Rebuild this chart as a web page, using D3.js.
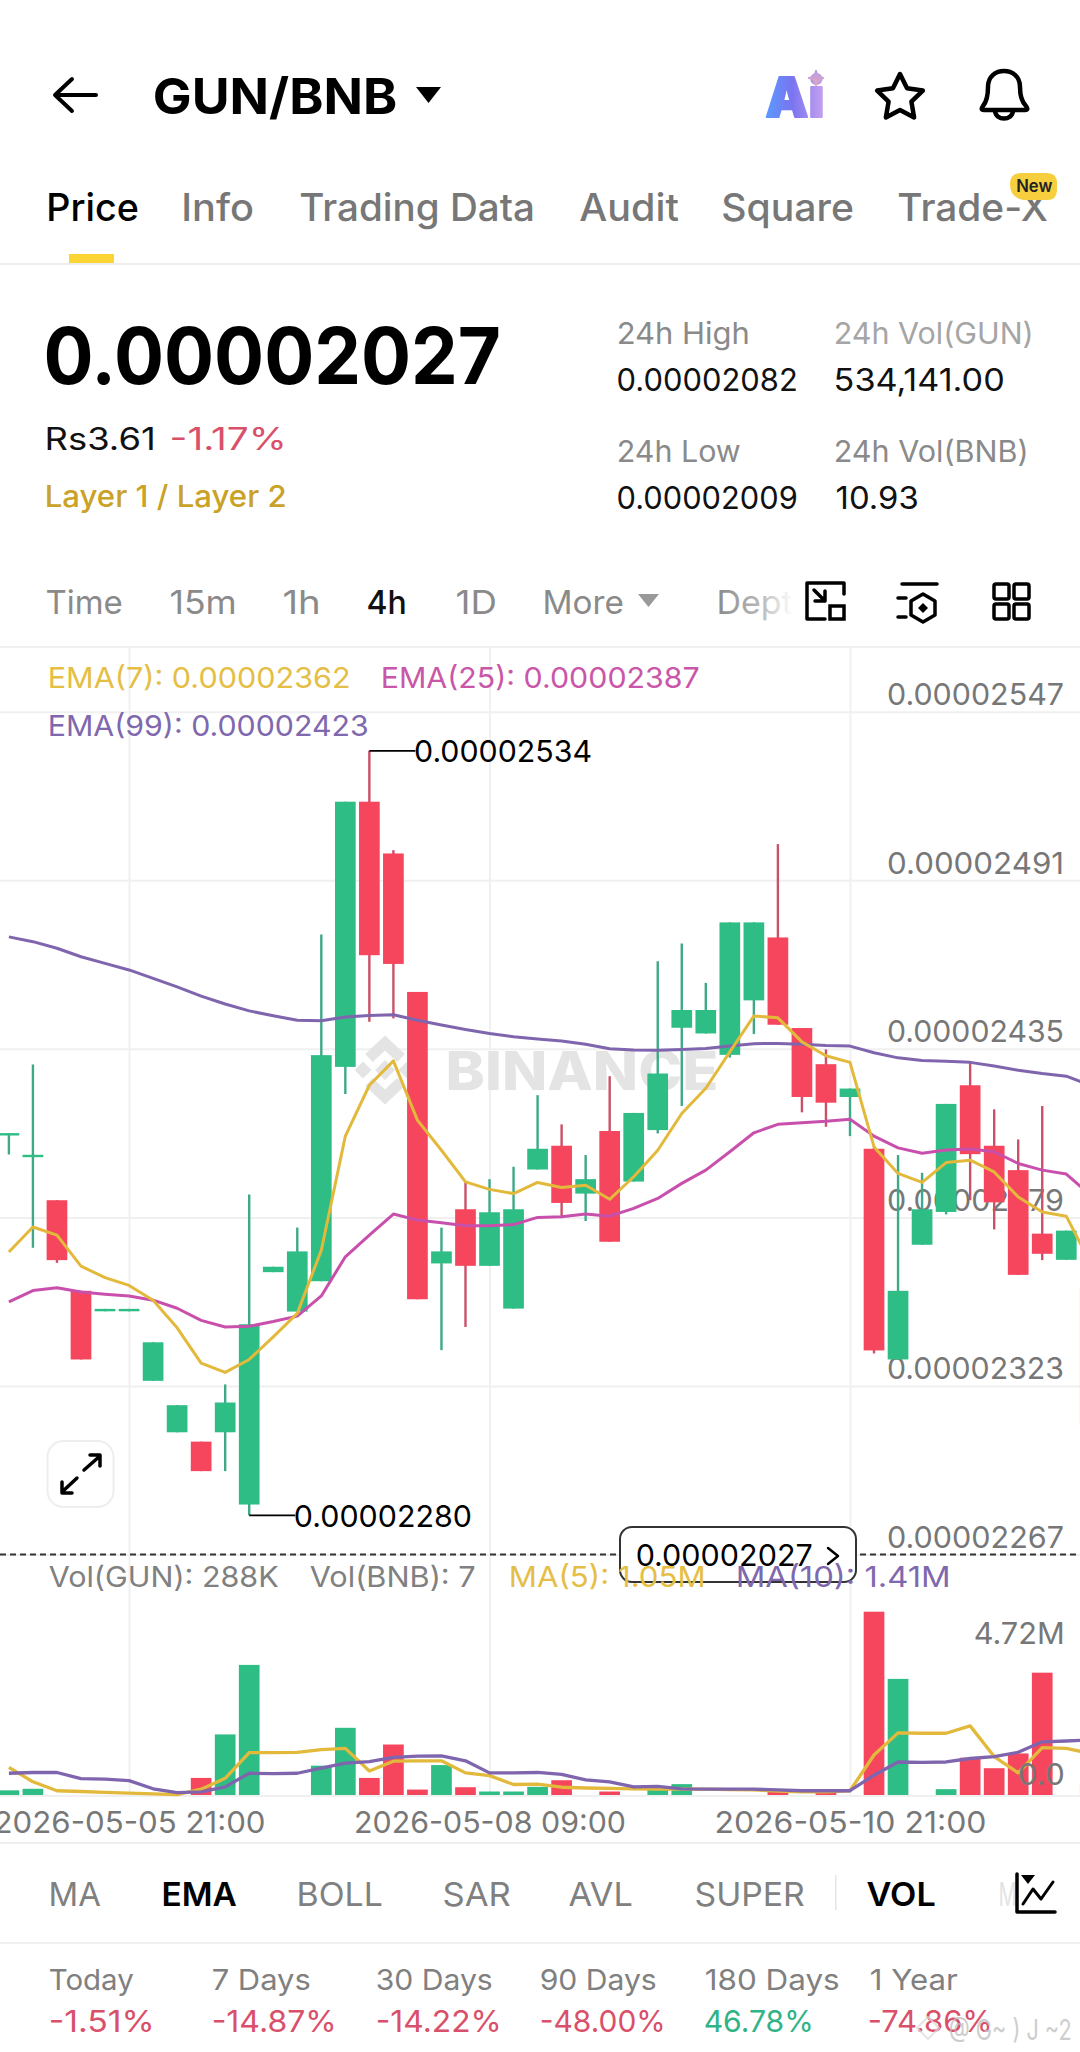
<!DOCTYPE html>
<html>
<head>
<meta charset="utf-8">
<script src="https://cdn.jsdelivr.net/npm/d3@7"></script>
<style>
  html, body { margin: 0; padding: 0; background: #fff; }
  svg { display: block; }
  text { font-family: Inter, "Noto Sans", sans-serif; }
</style>
</head>
<body>
<div id="chart"></div>
<script>
// 1. DATA (prices are in units of 0.00000001)
const opens = [2406.2,2399.0,2384.7,2354.6,2347.8,2347.8,2324.7,2307.6,2304.5,2307.6,2283.6,2360.8,2347.7,2357.8,2429,2517.1,2499.9,2453.9,2363.7,2381.7,2362.9,2348.7,2394.9,2402.8,2386.9,2407.7,2390.9,2408,2442,2440.1,2433,2451.1,2472,2441.9,2429.9,2419,2401.8,2331.8,2369.9,2380.8,2422.9,2402.8,2394.7,2373.6,2364.9,2355.7];
const closes = [2407,2399.8,2364.8,2331.8,2348.6,2348.6,2337.5,2316.6,2294.7,2317.5,2343.5,2362.6,2367.7,2432.9,2517.1,2466.1,2463.2,2351.8,2367.7,2362.9,2380.7,2381.7,2401.8,2383.8,2391.7,2370.9,2413.7,2426.8,2447.9,2447.9,2477,2477,2443,2419,2417.1,2421.8,2334.8,2354.6,2381.7,2416.7,2400,2384,2359.9,2366.9,2374.6,2309.7];
const highs = [2407,2429.8,2384.7,2354.6,2348.6,2348.6,2337.5,2316.6,2304.5,2323.5,2386.6,2362.6,2375.6,2473,2517.1,2534,2501,2453.9,2375.6,2390.8,2391.7,2395.8,2419.6,2409.9,2399.7,2425.9,2413.7,2464.1,2470,2456.9,2477,2477,2503,2441.9,2434.8,2421.8,2402.7,2399.7,2393.8,2416.7,2430.7,2414.9,2404.9,2416,2374.6,2355.7];
const lows = [2399.9,2368.9,2363.9,2331.8,2347.8,2347.8,2324.7,2307.6,2294.7,2294.7,2280,2360.8,2347.7,2357.8,2420,2444,2445.1,2351.8,2334.9,2342.6,2362.9,2348.7,2394.9,2379,2377.8,2370.9,2390.9,2406.9,2416,2440.1,2432.1,2439.9,2443,2413.9,2409.1,2406,2333.8,2331.8,2369.9,2380,2384.7,2375,2359.9,2364.8,2364.9,2309.7];

const ema7 = [2367.5,2375.8,2373.1,2362.8,2359,2356.4,2351.5,2342.3,2330.6,2327.5,2331.8,2339.3,2347.1,2368.1,2406,2422.9,2431,2411.3,2401.3,2390.8,2388.3,2386.9,2390.6,2388.9,2389.7,2385,2392.5,2401.3,2413.5,2421.9,2434,2445.9,2445.3,2437.3,2432.7,2430.5,2402.4,2393.6,2390.6,2397.2,2398,2394.1,2385.8,2380.8,2379.4,2364];
const ema25 = [2350.9,2354.7,2355.6,2354.2,2353.5,2352.9,2351.5,2348.8,2344.8,2342.6,2342.8,2344.4,2346.2,2352.9,2365.9,2373.1,2380.1,2378.1,2377.2,2376.2,2376.2,2376.6,2379,2379.2,2380.1,2379.4,2382,2385.3,2390.3,2394.7,2400.8,2407.1,2409.9,2410.4,2410.9,2411.6,2406,2402.1,2400.3,2401.4,2401.7,2400.8,2396.9,2394.7,2393.4,2386.4];
const ema99 = [2472.2,2470.6,2468.4,2465.6,2463.4,2461.2,2458.4,2455.6,2452.5,2449.9,2447.6,2446,2444.5,2444.3,2445.6,2446.1,2446.3,2444.5,2442.9,2441.4,2440.1,2439,2438.3,2437.6,2436.5,2435,2434.6,2434.5,2434.8,2435.1,2435.9,2436.7,2436.8,2436.5,2436.1,2435.9,2433.7,2432,2431.1,2430.9,2430.5,2429.3,2427.9,2426.8,2425.9,2422.9];

// volume in millions of GUN
const volumes = [0.12,0.16,0,0,0,0,0,0,0.44,1.56,3.35,0,0,0.755,1.73,0.44,1.30,0.14,0.77,0.20,0.09,0.09,0.21,0.38,0,0.09,0,0.15,0.28,0,0,0,0.09,0,0.07,0,4.72,2.99,0,0.15,0.96,0.69,1.07,3.15,0,0.28];
const volMa5 = [0.71,0.34,0.11,0.09,0.07,0.05,0.03,0.01,0.15,0.43,1.09,1.09,1.10,1.17,1.20,0.62,0.87,0.88,0.88,0.57,0.50,0.27,0.28,0.20,0.18,0.17,0.16,0.15,0.16,0.15,0.14,0.13,0.10,0.08,0.08,0.11,1.03,1.60,1.59,1.59,1.78,0.99,0.57,1.22,1.20,1.07];
const volMa10 = [0.56,0.58,0.58,0.42,0.41,0.37,0.16,0.06,0.08,0.21,0.56,0.55,0.56,0.69,0.82,0.86,0.97,1.0,1.01,0.88,0.57,0.57,0.58,0.53,0.39,0.34,0.21,0.22,0.16,0.15,0.15,0.15,0.13,0.11,0.11,0.11,0.51,0.85,0.84,0.85,0.94,0.99,1.10,1.37,1.39,1.42];

const priceTicks = [2547, 2491, 2435, 2379, 2323, 2267];
const dateTickIndex = [5, 20, 35];
const dateTickLabels = ["2026-05-05 21:00", "2026-05-08 09:00", "2026-05-10 21:00"];
const lastPrice = 2027;

// 2. SETUP
const width = 1080;
const height = 2052;
const GREEN = "#2EBD85", RED = "#F6465D";
const GREEN_WICK = "#3FA888", RED_WICK = "#CB5069";
const GRID = "#F0F0F0", AXIS_TEXT = "#777";
const YELLOW = "#E3B93C", MAGENTA = "#C850AC", PURPLE = "#7F65AE";
const SOFT_RED = "#D9506A";

const svg = d3.select("#chart").append("svg")
    .attr("width", width)
    .attr("height", height)
    .attr("viewBox", [0, 0, width, height]);

const defs = svg.append("defs");
function gradient(id, stops, x2 = 1, y2 = 0) {
    const g = defs.append("linearGradient").attr("id", id)
        .attr("x1", 0).attr("y1", 0).attr("x2", x2).attr("y2", y2);
    stops.forEach(([o, c]) => g.append("stop").attr("offset", o).attr("stop-color", c));
}
gradient("aiFill", [[0, "#5A9BFF"], [0.45, "#7A74F0"], [1, "#C6A2EE"]]);
gradient("sparkFill", [[0, "#B79AE8"], [1, "#E3A9B8"]], 0, 1);
gradient("deptFade", [[0, "#8A8A8A"], [0.6, "#BBBBBB"], [1, "#FFFFFF"]]);

// text squeezed to the width it has in the screenshot (glyph edges, so pad for side bearings)
function txt(g, s, x0, x1, base, size, fill, weight = 400) {
    const left = x0 - size * 0.045, right = x1 + size * 0.025;
    return g.append("text")
        .attr("x", left).attr("y", base)
        .attr("textLength", right - left).attr("lengthAdjust", "spacingAndGlyphs")
        .attr("font-size", size).attr("font-weight", weight)
        .attr("fill", fill)
        .text(s);
}
function outline(g, d, sw = 4, color = "#000") {
    return g.append("path").attr("d", d).attr("fill", "none")
        .attr("stroke", color).attr("stroke-width", sw)
        .attr("stroke-linecap", "round").attr("stroke-linejoin", "round");
}

// 3. HEADER
const head = svg.append("g");
outline(head, "M96 95 H56 M72 79 L55 95 L72 111", 4);
txt(head, "GUN/BNB", 155, 396, 114, 50, "#000", 700);
head.append("path").attr("d", "M416 87 H441 L428.5 103 Z").attr("fill", "#000");
txt(head, "Ai", 768, 823, 117, 55, "url(#aiFill)", 900)
    .attr("stroke", "url(#aiFill)").attr("stroke-width", 2).attr("stroke-linejoin", "round");
head.append("path").attr("d", "M816 70 Q817 77 824 78 Q817 79 816 86 Q815 79 808 78 Q815 77 816 70 Z")
    .attr("fill", "url(#sparkFill)").attr("stroke", "url(#sparkFill)").attr("stroke-width", 1.5);

const starPts = d3.range(10).map(i => [i * Math.PI / 5, i % 2 ? 12 : 24]);
outline(head, d3.lineRadial().curve(d3.curveLinearClosed)(starPts), 4.5).attr("transform", "translate(900,98)");
outline(head, "M983 106 C988 100 988 92 988 87 C988 76 996 71 1004 71 C1012 71 1020 76 1020 87 C1020 92 1020 100 1026 106 Q1029 110 1025 110 L984 110 Q980 110 983 106 Z M995 111 C996 121 1012 121 1013 111", 4.5);

txt(head, "Price", 48, 138, 221, 38, "#000", 500);
txt(head, "Info", 183, 253, 221, 38, "#777", 500);
txt(head, "Trading Data", 301, 534, 221, 38, "#777", 500);
txt(head, "Audit", 581, 678, 221, 38, "#777", 500);
txt(head, "Square", 723, 853, 221, 38, "#777", 500);
txt(head, "Trade-X", 899, 1047, 221, 38, "#777", 500);
head.append("path").attr("d", "M1022 173 H1047 Q1057 173 1057 183 V190 Q1057 200 1047 200 H1028 Q1010 200 1010 184 Q1010 173 1022 173 Z").attr("fill", "#F7CE3E");
txt(head, "New", 1017, 1052, 192, 17, "#222", 600);
head.append("rect").attr("x", 69).attr("y", 254).attr("width", 45).attr("height", 9).attr("fill", "#FCD535");
head.append("rect").attr("x", 0).attr("y", 263).attr("width", width).attr("height", 2).attr("fill", "#EEE");

// 4. STATS
const stats = svg.append("g");
txt(stats, "0.00002027", 47, 499, 384, 78, "#000", 700);
txt(stats, "Rs3.61", 46, 155, 450, 31, "#111");
txt(stats, "-1.17%", 171, 286, 450, 31, SOFT_RED);
txt(stats, "Layer 1 / Layer 2", 46, 286, 507, 30, "#C9A227", 500);
txt(stats, "24h High", 618, 749, 344, 30, "#8A8A8A");
txt(stats, "24h Vol(GUN)", 835, 1033, 344, 30, "#A5A5A5");
txt(stats, "0.00002082", 618, 797, 391, 31, "#111");
txt(stats, "534,141.00", 835, 1004, 391, 31, "#111");
txt(stats, "24h Low", 618, 740, 462, 30, "#8A8A8A");
txt(stats, "24h Vol(BNB)", 835, 1028, 462, 30, "#8A8A8A");
txt(stats, "0.00002009", 618, 797, 509, 31, "#111");
txt(stats, "10.93", 837, 918, 509, 31, "#111");

// 5. INTERVAL ROW
const row = svg.append("g");
txt(row, "Time", 47, 122, 614, 33, "#8A8A8A");
txt(row, "15m", 171, 236, 614, 33, "#8A8A8A");
txt(row, "1h", 284, 320, 614, 33, "#8A8A8A");
txt(row, "4h", 368, 406, 614, 33, "#111", 500);
txt(row, "1D", 457, 496, 614, 33, "#8A8A8A");
txt(row, "More", 544, 623, 614, 33, "#8A8A8A");
row.append("path").attr("d", "M638 594 H659 L648.5 607 Z").attr("fill", "#999");
txt(row, "Dept", 718, 792, 614, 33, "url(#deptFade)");
outline(row, "M844 594 V583 H807 V619 H825 M814 590 L825 601 M825 591 V601 H815", 3.5);
row.append("rect").attr("x", 830).attr("y", 606).attr("width", 14).attr("height", 13).attr("fill", "none").attr("stroke", "#000").attr("stroke-width", 3.5);
outline(row, "M902 584 H937 M898 598 H906 M898 617 H906", 3.5);
outline(row, "M923 594 L935 601 V615 L923 622 L911 615 V601 Z", 3.5);
row.append("path").attr("d", "M923 603 L928 608 L923 613 L918 608 Z").attr("fill", "#000");
[[994, 584], [1014, 584], [994, 604], [1014, 604]].forEach(([sx, sy]) => {
    row.append("rect").attr("x", sx).attr("y", sy).attr("width", 15).attr("height", 15).attr("rx", 2)
        .attr("fill", "none").attr("stroke", "#000").attr("stroke-width", 3.5);
});

// 6. SCALES
const x = d3.scaleLinear().domain([0, 45]).range([8.9, 1090.3]);
const y = d3.scaleLinear().domain([2547, 2267]).range([711.7, 1554.5]);
const vol = d3.scaleLinear().domain([0, 4.72]).range([1795, 1611.7]);
const candleW = 20.7;
const chartTop = 647;
const isUp = i => closes[i] >= opens[i];

// --- GRID AND AXES ---
svg.append("line").attr("x1", 0).attr("x2", width).attr("y1", chartTop).attr("y2", chartTop)
    .attr("stroke", GRID).attr("stroke-width", 2);

svg.append("g")
    .attr("transform", "translate(0,1795)")
    .call(d3.axisBottom(x)
        .tickValues(dateTickIndex)
        .tickSize(-(1795 - chartTop))
        .tickFormat((d, i) => dateTickLabels[i]))
    .call(g => g.select(".domain").remove())
    .call(g => g.selectAll("line").attr("stroke", GRID).attr("stroke-width", 2))
    .call(g => g.selectAll("text")
        .attr("y", 38).attr("dy", 0)
        .attr("font-family", "Inter")
        .attr("font-size", 30).attr("fill", AXIS_TEXT)
        .attr("textLength", 272).attr("lengthAdjust", "spacingAndGlyphs"));

svg.append("line").attr("x1", 0).attr("x2", width).attr("y1", 1796).attr("y2", 1796)
    .attr("stroke", GRID).attr("stroke-width", 2);

svg.append("g")
    .call(d3.axisRight(y)
        .tickValues(priceTicks)
        .tickSize(width)
        .tickFormat(d => (d * 1e-8).toFixed(8)))
    .call(g => g.select(".domain").remove())
    .call(g => g.selectAll("line").attr("stroke", GRID).attr("stroke-width", 2))
    .call(g => g.selectAll("text")
        .attr("x", 887).attr("dy", -7)
        .attr("text-anchor", "start")
        .attr("font-family", "Inter")
        .attr("font-size", 30).attr("fill", AXIS_TEXT)
        .attr("textLength", 177).attr("lengthAdjust", "spacingAndGlyphs"));

// --- WATERMARK ---
const mark = svg.append("g").attr("fill", "#E4E4E4");
[[385, 1070, 7], [363, 1070, 6], [407, 1070, 6]].forEach(([mx, my, s]) => {
    mark.append("rect").attr("x", -s).attr("y", -s).attr("width", 2 * s).attr("height", 2 * s)
        .attr("transform", `translate(${mx},${my}) rotate(45)`);
});
mark.append("path").attr("d", "M369 1058 L385 1043 L401 1058 M369 1082 L385 1097 L401 1082")
    .attr("fill", "none").attr("stroke", "#E4E4E4").attr("stroke-width", 11);
txt(mark, "BINANCE", 448, 717, 1090, 53, "#E4E4E4", 800);

// --- CANDLES ---
const idx = d3.range(opens.length);
svg.append("g").selectAll("line")
    .data(idx)
    .join("line")
    .attr("x1", i => x(i)).attr("x2", i => x(i))
    .attr("y1", i => y(highs[i])).attr("y2", i => y(lows[i]))
    .attr("stroke", i => isUp(i) ? GREEN_WICK : RED_WICK)
    .attr("stroke-width", 2.4);

svg.append("g").selectAll("rect")
    .data(idx)
    .join("rect")
    .attr("x", i => x(i) - candleW / 2)
    .attr("width", candleW)
    .attr("y", i => y(Math.max(opens[i], closes[i])))
    .attr("height", i => Math.abs(y(opens[i]) - y(closes[i])))
    .attr("fill", i => isUp(i) ? GREEN : RED);

// --- EMA LINES ---
const priceLine = d3.line().x((d, i) => x(i)).y(d => y(d));
[[ema99, PURPLE], [ema25, MAGENTA], [ema7, YELLOW]].forEach(([series, color]) => {
    svg.append("path").attr("d", priceLine(series)).attr("fill", "none")
        .attr("stroke", color).attr("stroke-width", 3).attr("stroke-linejoin", "round");
});

txt(svg, "EMA(7): 0.00002362", 49, 350, 688, 29, "#E5BE45");
txt(svg, "EMA(25): 0.00002387", 382, 699, 688, 29, "#C956A8");
txt(svg, "EMA(99): 0.00002423", 49, 368, 736, 29, "#8068AE");

// --- HIGH / LOW MARKERS ---
const hiIdx = d3.maxIndex(highs), loIdx = d3.minIndex(lows);
[[hiIdx, highs[hiIdx], 11], [loIdx, lows[loIdx], 12]].forEach(([i, v, off]) => {
    svg.append("line").attr("x1", x(i)).attr("x2", x(i) + 46)
        .attr("y1", y(v)).attr("y2", y(v)).attr("stroke", "#000").attr("stroke-width", 1.6);
    txt(svg, (v * 1e-8).toFixed(8), x(i) + 46, x(i) + 222, y(v) + off, 30, "#000");
});

// --- EXPAND BUTTON ---
svg.append("rect").attr("x", 47.5).attr("y", 1441).attr("width", 66).attr("height", 66).attr("rx", 16)
    .attr("fill", "#fff").attr("stroke", "#EEE").attr("stroke-width", 2);
outline(svg, "M84 1470 L100 1456 M90 1455 H100 V1466 M77 1478 L62 1492 M72 1493 H62 V1482", 3.5);

// --- LAST PRICE ---
const lastY = y(Math.max(lastPrice, y.domain()[1]));
svg.append("line").attr("x1", 0).attr("x2", width).attr("y1", lastY).attr("y2", lastY)
    .attr("stroke", "#333").attr("stroke-width", 2).attr("stroke-dasharray", "6,4");
svg.append("rect").attr("x", 620).attr("y", 1527).attr("width", 236).attr("height", 55).attr("rx", 12)
    .attr("fill", "#fff").attr("stroke", "#333").attr("stroke-width", 2);
txt(svg, (lastPrice * 1e-8).toFixed(8), 637, 812, 1566, 30, "#000");
outline(svg, "M828 1548 L838 1556 L828 1564", 2.5);

// --- VOLUME ---
svg.append("g").selectAll("rect")
    .data(idx.filter(i => volumes[i] > 0))
    .join("rect")
    .attr("x", i => x(i) - candleW / 2)
    .attr("width", candleW)
    .attr("y", i => vol(volumes[i]))
    .attr("height", i => vol(0) - vol(volumes[i]))
    .attr("fill", i => isUp(i) ? GREEN : RED);

const volLine = d3.line().x((d, i) => x(i)).y(d => vol(d));
[[volMa5, YELLOW], [volMa10, PURPLE]].forEach(([series, color]) => {
    svg.append("path").attr("d", volLine(series)).attr("fill", "none")
        .attr("stroke", color).attr("stroke-width", 3.3).attr("stroke-linejoin", "round");
});

txt(svg, "4.72M", 975, 1064, 1644, 30, AXIS_TEXT);
txt(svg, "0.0", 1019, 1064, 1785, 30, AXIS_TEXT);

txt(svg, "Vol(GUN): 288K", 50, 278, 1587, 29, "#808080");
txt(svg, "Vol(BNB): 7", 311, 475, 1587, 29, "#808080");
txt(svg, "MA(5): 1.05M", 510, 705, 1587, 29, "#E5BE45");
txt(svg, "MA(10): 1.41M", 737, 950, 1587, 29, "#8068AE");

// 7. BOTTOM ROWS
const foot = svg.append("g");
foot.append("rect").attr("x", 0).attr("y", 1842).attr("width", width).attr("height", 2).attr("fill", "#EEE");
txt(foot, "MA", 50, 100, 1906, 33, "#808080");
txt(foot, "EMA", 163, 236, 1906, 33, "#000", 600);
txt(foot, "BOLL", 298, 382, 1906, 33, "#808080");
txt(foot, "SAR", 444, 510, 1906, 33, "#808080");
txt(foot, "AVL", 570, 632, 1906, 33, "#808080");
txt(foot, "SUPER", 696, 804, 1906, 33, "#808080");
foot.append("rect").attr("x", 835).attr("y", 1875).attr("width", 1.5).attr("height", 35).attr("fill", "#E5E5E5");
txt(foot, "VOL", 868, 935, 1906, 33, "#000", 600);
txt(foot, "M", 1000, 1016, 1906, 33, "#E3E3E3");
outline(foot, "M1017 1874 V1912 H1055", 3.5);
outline(foot, "M1023 1904 L1033 1889 L1041 1899 L1053 1882", 3);
foot.append("path").attr("d", "M1021 1875 H1035 L1028 1884 Z").attr("fill", "#000");
foot.append("rect").attr("x", 0).attr("y", 1942).attr("width", width).attr("height", 2).attr("fill", "#F0F0F0");

txt(foot, "Today", 50, 133, 1990, 29, "#808080");
txt(foot, "7 Days", 213, 310, 1990, 29, "#808080");
txt(foot, "30 Days", 377, 492, 1990, 29, "#808080");
txt(foot, "90 Days", 541, 656, 1990, 29, "#808080");
txt(foot, "180 Days", 706, 839, 1990, 29, "#808080");
txt(foot, "1 Year", 871, 957, 1990, 29, "#808080");
txt(foot, "-1.51%", 50, 154, 2032, 30, SOFT_RED);
txt(foot, "-14.87%", 213, 336, 2032, 30, SOFT_RED);
txt(foot, "-14.22%", 377, 501, 2032, 30, SOFT_RED);
txt(foot, "-48.00%", 541, 665, 2032, 30, SOFT_RED);
txt(foot, "46.78%", 705, 813, 2032, 30, "#30B386");
txt(foot, "-74.86%", 869, 992, 2032, 30, SOFT_RED);

// faint username stamp over the corner
const stamp = svg.append("g").attr("opacity", 0.75);
outline(stamp, "M928 2017 L939 2028 L928 2039 L917 2028 Z", 2, "#DDD");
txt(stamp, "@ G~ ) J ~2", 950, 1071, 2040, 28, "#BDBDBD");
</script>
</body>
</html>
